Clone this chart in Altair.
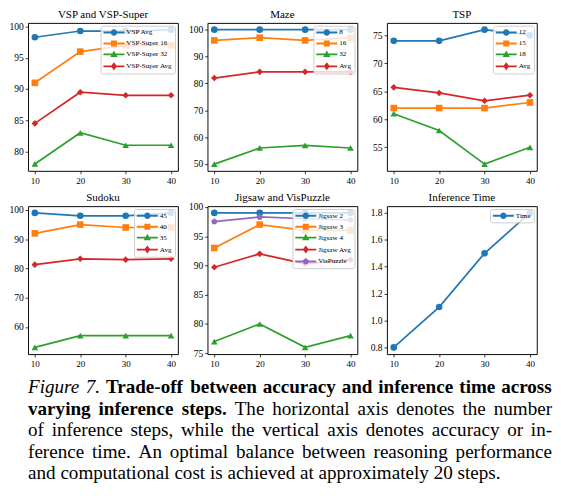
import altair as alt
import pandas as pd

# ---------------- data ----------------
steps = [10, 20, 30, 40]

vsp_names = ["VSP Avg", "VSP-Super 16", "VSP-Super 32", "VSP-Super Avg"]
vsp_avg = [98.3, 99.3, 99.3, 99.5]
vsp_super_16 = [91, 96, 97, 97]
vsp_super_32 = [78, 83, 81, 81]
vsp_super_avg = [84.5, 89.5, 89, 89]

maze_names = ["8", "16", "32", "Avg"]
maze_8 = [100, 100, 100, 100]
maze_16 = [96, 97, 96, 97]
maze_32 = [50, 56, 57, 56]
maze_avg = [82, 84.3, 84.3, 84.3]

tsp_names = ["12", "15", "18", "Avg"]
tsp_12 = [74, 74, 76, 75]
tsp_15 = [62, 62, 62, 63]
tsp_18 = [61, 58, 52, 55]
tsp_avg = [65.7, 64.7, 63.3, 64.3]

sudoku_names = ["45", "40", "35", "Avg"]
sudoku_45 = [99, 98, 98, 99]
sudoku_40 = [92, 95, 94, 94]
sudoku_35 = [53, 57, 57, 57]
sudoku_avg = [81.3, 83.3, 83, 83.3]

jigsaw_names = ["Jigsaw 2", "Jigsaw 3", "Jigsaw 4", "Jigsaw Avg", "VisPuzzle"]
jigsaw_2 = [99, 99, 99, 99]
jigsaw_3 = [93, 97, 96, 96]
jigsaw_4 = [77, 80, 76, 78]
jigsaw_avg = [89.7, 92, 90.3, 91]
vispuzzle = [97.5, 98.3, 98, 97.8]

time_names = ["Time"]
inference_time = [0.8, 1.1, 1.5, 1.8]

x_ticks = [10, 20, 30, 40]

caption_lines = [
    [("Figure 7.", "italic"), ("Trade-off between accuracy and inference time across", "bold")],
    [("varying inference steps.", "bold"), ("The horizontal axis denotes the number", "normal")],
    [("of inference steps, while the vertical axis denotes accuracy or in-", "normal")],
    [("ference time. An optimal balance between reasoning performance", "normal")],
    [("and computational cost is achieved at approximately 20 steps.", "normal")],
]
caption_justify = [True, True, True, True, False]

# ---------------- style ----------------
FONT = "Liberation Serif"
COLORS = ["#1f77b4", "#ff7f0e", "#2ca02c", "#d62728", "#9467bd"]
PENT = "M0,-1L0.951,-0.309L0.588,0.809L-0.588,0.809L-0.951,-0.309Z"
SHAPES = ["circle", "square", "triangle-up", "diamond", PENT]
KINDS = ["circle", "square", "triangle", "diamond", "pent"]
W, H = 157, 155


def _f(v):
    return f"{v:.3f}".rstrip("0").rstrip(".")


def legend_path(kind):
    cx = 1.75
    line = "M-1,-0.25H4.5V0.25H-1Z"
    if kind == "circle":
        r = 0.85
        m = f"M{_f(cx + r)},0A{_f(r)},{_f(r)} 0 1,1 {_f(cx - r)},0A{_f(r)},{_f(r)} 0 1,1 {_f(cx + r)},0Z"
    elif kind == "square":
        s = 0.78
        m = f"M{_f(cx - s)},{_f(-s)}H{_f(cx + s)}V{_f(s)}H{_f(cx - s)}Z"
    elif kind == "triangle":
        m = f"M{_f(cx)},-1L{_f(cx + 0.95)},0.65H{_f(cx - 0.95)}Z"
    elif kind == "diamond":
        m = f"M{_f(cx)},-1.05L{_f(cx + 0.8)},0L{_f(cx)},1.05L{_f(cx - 0.8)},0Z"
    else:
        pts = [(0, -1), (0.951, -0.309), (0.588, 0.809), (-0.588, 0.809), (-0.951, -0.309)]
        m = "M" + "L".join(f"{_f(cx + 0.9 * a)},{_f(0.9 * b)}" for a, b in pts) + "Z"
    return line + m


def panel(title, names, series, domain, yticks, yfmt):
    rows = []
    for n, vals in zip(names, series):
        for s, v in zip(steps, vals):
            rows.append({"step": s, "value": v, "series": n})
    df = pd.DataFrame(rows)
    k = len(names)
    cols = COLORS[:k]
    lpaths = [legend_path(kd) for kd in KINDS[:k]]
    x = alt.X("step:Q", scale=alt.Scale(domain=[8.5, 41.5], nice=False, zero=False),
              axis=alt.Axis(values=x_ticks, title=None, labelAngle=0, format="d",
                            labelFont=FONT, labelFontSize=9.5))
    y = alt.Y("value:Q", scale=alt.Scale(domain=domain, nice=False, zero=False),
              axis=alt.Axis(values=yticks, title=None, format=yfmt, labelFont=FONT,
                            labelFontSize=10, minExtent=20, maxExtent=20))
    base = alt.Chart(df)
    layers = []
    for i, n in enumerate(names):
        sub = base.transform_filter(alt.datum.series == n)
        layers.append(sub.mark_line(strokeWidth=1.8, color=cols[i]).encode(x=x, y=y))
        layers.append(sub.mark_point(filled=True, opacity=1, size=48, strokeWidth=0,
                                     shape=SHAPES[i], color=cols[i]).encode(x=x, y=y))
    legend = alt.Legend(
        title=None, orient="top-right", offset=3, fillColor="rgba(255,255,255,0.8)",
        strokeColor="#cccccc", cornerRadius=2, padding=3, rowPadding=3.5,
        labelFont=FONT, labelFontSize=7.5, labelColor="black", labelOffset=16,
        symbolSize=64, symbolOpacity=1, symbolStrokeWidth=0,
    )
    leg_layer = base.transform_filter("false").mark_point(
        filled=True, opacity=1, size=64, strokeWidth=0
    ).encode(
        x=x, y=y,
        color=alt.Color("series:N", scale=alt.Scale(domain=names, range=cols), legend=legend),
        shape=alt.Shape("series:N", scale=alt.Scale(domain=names, range=lpaths), legend=legend),
    )
    layers.append(leg_layer)
    # panel title drawn as a plain serif text mark above the frame
    ttl = alt.Chart(pd.DataFrame({"t": [title]})).mark_text(
        font=FONT, fontSize=11.5, fontWeight="normal", color="black",
        align="center", baseline="alphabetic"
    ).encode(x=alt.value(W / 2), y=alt.value(-5), text="t:N")
    layers.append(ttl)
    return alt.layer(*layers).properties(width=W, height=H)


p1 = panel("VSP and VSP-Super", vsp_names, [vsp_avg, vsp_super_16, vsp_super_32, vsp_super_avg],
           [76.9, 100.6], [80, 85, 90, 95, 100], "d")
p2 = panel("Maze", maze_names, [maze_8, maze_16, maze_32, maze_avg],
           [47.5, 102.5], [50, 60, 70, 80, 90, 100], "d")
p3 = panel("TSP", tsp_names, [tsp_12, tsp_15, tsp_18, tsp_avg],
           [50.8, 77.2], [55, 60, 65, 70, 75], "d")
p4 = panel("Sudoku", sudoku_names, [sudoku_45, sudoku_40, sudoku_35, sudoku_avg],
           [50.7, 101.3], [60, 70, 80, 90, 100], "d")
p5 = panel("Jigsaw and VisPuzzle", jigsaw_names, [jigsaw_2, jigsaw_3, jigsaw_4, jigsaw_avg, vispuzzle],
           [74.85, 100.15], [75, 80, 85, 90, 95, 100], "d")
p6 = panel("Inference Time", time_names, [inference_time],
           [0.75, 1.85], [0.8, 1.0, 1.2, 1.4, 1.6, 1.8], ".1f")

# ---------------- caption (justified like the paper) ----------------
REG = dict(zip("abcdefghijklmnopqrstuvwxyz", [444, 500, 444, 500, 444, 333, 500, 500, 278, 278, 500, 278, 778,
                                               500, 500, 500, 500, 333, 389, 278, 500, 500, 722, 500, 500, 444]))
REG.update({" ": 250, ",": 250, ".": 250, "-": 333, "A": 722, "T": 611, "F": 556})
REG.update({d: 500 for d in "0123456789"})
BOLD = dict(zip("abcdefghijklmnopqrstuvwxyz", [500, 556, 444, 556, 444, 333, 500, 556, 278, 333, 556, 278, 833,
                                                556, 500, 556, 556, 444, 389, 333, 556, 500, 722, 500, 500, 444]))
BOLD.update({" ": 250, ".": 250, "-": 333, "T": 667})
ITAL = {"F": 611, "i": 278, "g": 500, "u": 500, "r": 389, "e": 444, "7": 500, ".": 250, " ": 250}
TABLES = {"normal": REG, "bold": BOLD, "italic": ITAL}
FS = 20
CAP_W = 549
LEAD = 22.5
Y0 = 18

words = []
for li, (line, just) in enumerate(zip(caption_lines, caption_justify)):
    ws = [(w, st) for seg, st in line for w in seg.split(" ")]
    widths = [sum(TABLES[st].get(ch, 500) for ch in w) * FS / 1000 for w, st in ws]
    gap = (CAP_W - sum(widths)) / (len(ws) - 1) if just else 0.25 * FS
    xpos = 0.0
    for (w, st), wd in zip(ws, widths):
        words.append({"word": w, "style": st, "x": xpos, "y": Y0 + li * LEAD})
        xpos += wd + gap
cap_df = pd.DataFrame(words)


def cap_layer(style, **kw):
    return alt.Chart(cap_df[cap_df["style"] == style]).mark_text(
        align="left", baseline="alphabetic", font=FONT, fontSize=FS, color="black", **kw
    ).encode(
        x=alt.X("x:Q", scale=None, axis=None),
        y=alt.Y("y:Q", scale=None, axis=None),
        text="word:N",
    )


caption = alt.layer(
    cap_layer("normal"),
    cap_layer("bold", fontWeight="bold"),
    cap_layer("italic", fontStyle="italic"),
).properties(width=CAP_W, height=110, view=alt.ViewBackground(stroke="transparent"))

indep = dict(color="independent", shape="independent", x="independent", y="independent")
row1 = alt.hconcat(p1, p2, p3, spacing=9).resolve_scale(**indep).resolve_legend(color="independent", shape="independent")
row2 = alt.hconcat(p4, p5, p6, spacing=9).resolve_scale(**indep).resolve_legend(color="independent", shape="independent")

chart = alt.vconcat(row1, row2, caption, spacing=7).resolve_scale(
    **indep
).resolve_legend(color="independent", shape="independent").properties(
    padding={"left": 0, "top": -11, "right": 0, "bottom": 0}
).configure(
    style={"guide-label": {"font": FONT, "fill": "black"}}
).configure_view(
    stroke="black", strokeWidth=1
).configure_axis(
    labelFont=FONT, labelFontSize=10, labelColor="black", tickColor="black",
    tickSize=3, tickWidth=0.8, domain=False, grid=False, labelPadding=2
)

chart.save("out.html", embed_options={"renderer": "svg", "actions": False})
